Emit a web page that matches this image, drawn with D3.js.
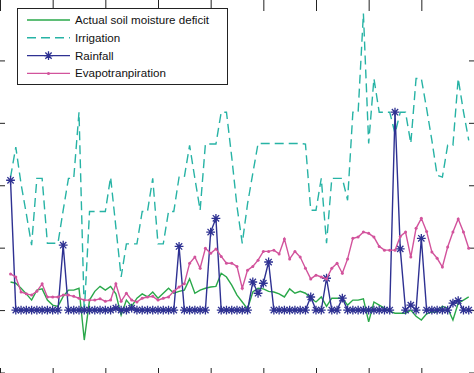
<!DOCTYPE html>
<html>
<head>
<meta charset="utf-8">
<script src="https://cdn.jsdelivr.net/npm/d3@7"></script>
<style>
  html, body { margin: 0; padding: 0; background: #fff; }
  svg { display: block; }
</style>
</head>
<body>
<script>
// Day index for each sample
const days = [
     2,  3,  4,  5,  6,  7,  8,  9, 10, 11,
    12, 13, 14, 15, 16, 17, 18, 19, 20, 21,
    22, 23, 24, 25, 26, 27, 28, 29, 30, 31,
    32, 33, 34, 35, 36, 37, 38, 39, 40, 41,
    42, 43, 44, 45, 46, 47, 48, 49, 50, 51,
    52, 53, 54, 55, 56, 57, 58, 59, 60, 61,
    62, 63, 64, 65, 66, 67, 68, 69, 70, 71,
    72, 73, 74, 75, 76, 77, 78, 79, 80, 81,
    82, 83, 84, 85, 86, 87, 88, 89
];

const soilDeficit = [
    4.5, 4.3, 3.5, 2.6, 1.6, 3.2, 3.4, 1.6, 0.8, 0.6,
    2.2, 3.2, 3.2, 3.5, -4.8, 1.6, 3.0, 3.8, 3.2, 3.8,
    2.6, -0.8, 1.6, 0.6, 1.9, 2.6, 2.1, 2.9, 1.9, 2.7,
    3.5, 2.7, 3.0, 3.2, 5.0, 2.7, 3.2, 3.5, 3.7, 3.8,
    5.9, 5.3, 4.0, 2.4, 1.3, 0.2, 2.9, 3.5, 3.4, 3.0,
    2.9, 2.6, 2.1, 3.4, 2.7, 3.0, 2.7, 1.9, 1.3, 2.1,
    0.6, 1.9, 1.9, 1.9, 0.8, 1.6, 1.6, 1.8, -1.9, 1.3,
    0.8, 0.3, -0.2, -0.5, -0.5, -0.5, 0, -1.0, -1.6, -0.6,
    -0.3, -0.3, 0.6, 0.3, -1.6, 1.1, 1.6, 2.1
];

const irrigation = [
    21.3, 26.1, 20.2, 15.4, 10.4, 21.1, 21.1, 10.7, 10.7, 10.7,
    16.0, 21.1, 21.1, 31.7, -0.5, 15.8, 15.8, 15.8, 15.8, 21.3,
    13.3, 5.3, 10.6, 10.6, 10.6, 15.8, 15.8, 21.1, 10.6, 10.6,
    15.8, 15.8, 21.3, 21.3, 26.4, 21.1, 16.0, 26.6, 26.6, 26.6,
    31.7, 31.7, 24.5, 16.6, 10.7, 17.0, 21.9, 26.7, 26.7, 26.7,
    26.7, 26.7, 26.7, 26.7, 26.7, 26.7, 26.6, 16.0, 16.0, 21.1,
    10.7, 21.1, 21.1, 21.1, 17.6, 31.7, 31.7, 47.5, 26.7, 37.1,
    31.7, 31.7, 31.7, 28.3, 31.7, 31.7, 26.7, 37.1, 37.1, 32.3,
    27.2, 21.6, 21.3, 26.4, 26.4, 37.1, 31.8, 27.2
];

const rainfall = [
    20.8, 0, 0, 0, 0, 0, 0, 0, 0, 0,
    10.4, 0, 0, 0, 0, 0, 0, 0, 0, 0,
    0.3, 0, 0, 0.3, 0, 0, 0, 0, 0, 0,
    0, 0, 10.2, 0, 0, 0, 0, 0, 12.5, 14.7,
    0, 0, 0, 0, 0, 0, 4.5, 2.7, 4.3, 7.7,
    0, 0, 0, 0, 0, 0, 0, 2.1, 0, 0,
    5.1, 0, 0, 1.9, 0, 0, 0, 0, 0, 0,
    0, 0, 0, 31.7, 9.8, 0, 0.8, 0, 11.5, 0,
    0, 0, 0, 0, 1.1, 1.5, 0, 0
];

const evapotranspiration = [
    5.8, 5.3, 2.9, 2.6, 2.4, 3.0, 4.2, 2.1, 2.1, 2.1,
    2.4, 2.4, 2.2, 1.9, 1.6, 1.6, 1.6, 1.8, 1.4, 1.6,
    4.2, 1.4, 2.7, 1.6, 1.3, 1.9, 2.1, 2.2, 1.6, 1.9,
    2.1, 3.0, 3.7, 4.2, 7.5, 8.5, 6.7, 9.9, 9.1, 9.8,
    8.6, 7.5, 7.5, 7.0, 3.5, 6.4, 7.0, 8.0, 9.4, 9.4,
    9.6, 9.0, 11.4, 8.2, 9.4, 8.5, 6.7, 5.0, 5.6, 5.3,
    5.0, 6.7, 7.5, 5.9, 8.2, 11.5, 11.7, 12.5, 12.3, 11.7,
    10.2, 9.6, 9.6, 9.6, 11.8, 12.5, 8.5, 13.1, 14.7, 12.6,
    9.3, 8.3, 6.9, 10.1, 12.5, 14.6, 12.5, 9.9
];

const xTicks = [0, 10, 20, 30, 40, 50, 60, 70, 80, 90];
const yTicks = [-10, 0, 10, 20, 30, 40, 50];

const seriesNames = ["Actual soil moisture deficit", "Irrigation", "Rainfall", "Evapotranpiration"];

const width = 474;
const height = 373;

// The axes box sits just outside the visible picture
const box = {left: -7, top: -1, right: 481, bottom: 380};
const tickLen = 12;

const x = d3.scaleLinear([0, 90], [0, 474]);
const y = d3.scaleLinear([-10, 50], [372.5, -2]);

const svg = d3.select("body").append("svg")
    .attr("width", width)
    .attr("height", height)
    .attr("viewBox", [0, 0, width, height]);

svg.append("rect").attr("width", width).attr("height", height).attr("fill", "#fff");

// axes (ticks only, labels are cropped away)
svg.append("g")
    .attr("transform", `translate(0,${box.top})`)
    .call(d3.axisTop(x).tickValues(xTicks).tickSize(-tickLen).tickFormat(""))
    .call(g => g.select(".domain").remove());
svg.append("g")
    .attr("transform", `translate(0,${box.bottom})`)
    .call(d3.axisBottom(x).tickValues(xTicks).tickSize(-tickLen).tickFormat(""))
    .call(g => g.select(".domain").remove());
svg.append("g")
    .attr("transform", `translate(${box.left},0)`)
    .call(d3.axisLeft(y).tickValues(yTicks).tickSize(-tickLen).tickFormat(""))
    .call(g => g.select(".domain").remove());
svg.append("g")
    .attr("transform", `translate(${box.right},0)`)
    .call(d3.axisRight(y).tickValues(yTicks).tickSize(-tickLen).tickFormat(""))
    .call(g => g.select(".domain").remove());
svg.selectAll(".tick line").attr("stroke", "#222").attr("stroke-width", 1);

const series = [
    {name: seriesNames[0], values: soilDeficit, color: "#2aa84a", dash: null, marker: null},
    {name: seriesNames[1], values: irrigation, color: "#27b3a5", dash: "9,5", marker: null},
    {name: seriesNames[2], values: rainfall, color: "#2e3192", dash: null, marker: "star"},
    {name: seriesNames[3], values: evapotranspiration, color: "#d2539c", dash: null, marker: "dot"}
];

const line = d3.line()
    .x(d => x(d[0]))
    .y(d => y(d[1]));

function starPath(s) {
    const d = s * 0.72;
    return `M${-s},0H${s}M0,${-s}V${s}M${-d},${-d}L${d},${d}M${-d},${d}L${d},${-d}`;
}

function drawMarkers(g, pts, s) {
    if (s.marker === "star") {
        g.selectAll("path.m")
            .data(pts)
            .join("path")
            .attr("class", "m")
            .attr("transform", d => `translate(${x(d[0])},${y(d[1])})`)
            .attr("d", starPath(4.4))
            .attr("stroke", s.color)
            .attr("stroke-width", 1.3)
            .attr("fill", "none");
    } else if (s.marker === "dot") {
        g.selectAll("circle.m")
            .data(pts)
            .join("circle")
            .attr("class", "m")
            .attr("cx", d => x(d[0]))
            .attr("cy", d => y(d[1]))
            .attr("r", 1.5)
            .attr("fill", s.color);
    }
}

for (const s of series) {
    const pts = days.map((d, i) => [d, s.values[i]]);
    const g = svg.append("g");
    g.append("path")
        .datum(pts)
        .attr("d", line)
        .attr("fill", "none")
        .attr("stroke", s.color)
        .attr("stroke-width", 1.4)
        .attr("stroke-dasharray", s.dash);
    drawMarkers(g, pts, s);
}

// legend
const legend = svg.append("g");
legend.append("rect")
    .attr("x", 17.5).attr("y", 8.5)
    .attr("width", 210).attr("height", 76)
    .attr("fill", "#fff")
    .attr("stroke", "#222")
    .attr("stroke-width", 1);

series.forEach((s, i) => {
    const ly = 20 + i * 17.8;
    const row = legend.append("g").attr("transform", `translate(0,${ly})`);
    row.append("line")
        .attr("x1", 27).attr("x2", 70)
        .attr("stroke", s.color)
        .attr("stroke-width", 1.4)
        .attr("stroke-dasharray", s.dash);
    if (s.marker === "star") {
        row.append("path")
            .attr("transform", "translate(48.5,0)")
            .attr("d", starPath(4.4))
            .attr("stroke", s.color)
            .attr("stroke-width", 1.3)
            .attr("fill", "none");
    } else if (s.marker === "dot") {
        row.append("circle").attr("cx", 48.5).attr("r", 1.5).attr("fill", s.color);
    }
    row.append("text")
        .attr("x", 75)
        .attr("dy", "0.35em")
        .style("font", "11.6px 'Liberation Sans', Arial, sans-serif")
        .attr("fill", "#111")
        .text(s.name);
});
</script>
</body>
</html>
